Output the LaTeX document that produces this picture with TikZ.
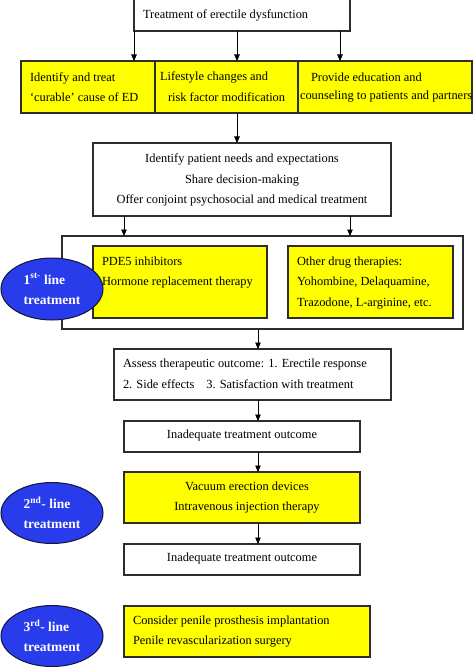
\documentclass[tikz,border=0pt]{standalone}
\usepackage{fontspec}
\setmainfont{Liberation Serif}
\usetikzlibrary{arrows.meta,shapes.geometric}
\definecolor{ylw}{RGB}{255,255,0}
\definecolor{blu}{RGB}{40,60,235}
\definecolor{edgec}{RGB}{45,45,45}
\definecolor{ovaledge}{RGB}{20,20,60}
\begin{document}
\begin{tikzpicture}[x=1pt,y=-1pt,
  box/.style={draw=edgec,line width=1.2pt,inner sep=0pt,outer sep=0pt},
  ybox/.style={box,fill=ylw},
  wbox/.style={box,fill=white},
  txt/.style={inner sep=0pt,outer sep=0pt,align=left,font=\fontsize{12.4}{20.5}\selectfont},
  ctxt/.style={txt,align=center},
  oval/.style={ellipse,draw=ovaledge,line width=1pt,fill=blu,text=white,inner sep=0pt,
    minimum width=102pt,minimum height=62pt,align=left,
    font=\bfseries\fontsize{13.5}{20}\selectfont},
  arr/.style={-{Triangle[length=6.5pt,width=5.5pt]},line width=0.9pt,black}]
\useasboundingbox (0,0) rectangle (474,668);
% boxes
\node[wbox,minimum width=216pt,minimum height=36pt] (top) at (242,13) {};
\node[ybox,minimum width=134pt,minimum height=52pt] (c1) at (88,87) {};
\node[ybox,minimum width=143pt,minimum height=52pt] (c2) at (226.5,87) {};
\node[ybox,minimum width=174pt,minimum height=52pt] (c3) at (385,87) {};
\node[wbox,minimum width=298pt,minimum height=73pt] (needs) at (242,179.5) {};
\node[wbox,minimum width=401pt,minimum height=93pt] (first) at (262.5,282.5) {};
\node[ybox,minimum width=174pt,minimum height=72pt] (pde) at (180,282) {};
\node[ybox,minimum width=165pt,minimum height=72pt] (other) at (370.5,282) {};
\node[wbox,minimum width=277pt,minimum height=51pt] (assess) at (252.5,374.5) {};
\node[wbox,minimum width=236pt,minimum height=31pt] (inad1) at (242,436.5) {};
\node[ybox,minimum width=236pt,minimum height=51pt] (vac) at (242,497.5) {};
\node[wbox,minimum width=236pt,minimum height=31pt] (inad2) at (242,559.5) {};
\node[ybox,minimum width=246pt,minimum height=51pt] (third) at (247,631.5) {};
% texts
\node[txt,anchor=west] (ttop) at (143,15) {Treatment of erectile dysfunction};
\node[txt,anchor=west] (tc1) at (30,87) {Identify and treat\\`curable' cause of ED};
\node[txt,anchor=west] (tc2a) at (160,77) {Lifestyle changes and};
\node[txt,anchor=west] (tc2b) at (168,97) {risk factor modification};
\node[txt,anchor=west] (tc3a) at (311,77) {Provide education and};
\node[txt,anchor=west] (tc3b) at (300,97) {counseling to patients and partners};
\node[ctxt] (tneeds) at (242,180) {Identify patient needs and expectations\\Share decision-making\\Offer conjoint psychosocial and medical treatment};
\node[txt,anchor=west] (tpde) at (102,272.5) {PDE5 inhibitors\\Hormone replacement therapy};
\node[txt,anchor=west] (tother) at (297,283) {Other drug therapies:\\Yohombine, Delaquamine,\\Trazodone, L-arginine, etc.};
\node[txt,anchor=west] (tassess) at (123,374) {Assess therapeutic outcome: 1. Erectile response\\2. Side effects\hspace{12pt}3. Satisfaction with treatment};
\node[ctxt] (tinad1) at (242,436) {Inadequate treatment outcome};
\node[ctxt] (tvac) at (247,497.5) {Vacuum erection devices\\Intravenous injection therapy};
\node[ctxt] (tinad2) at (242,559) {Inadequate treatment outcome};
\node[txt,anchor=west] (tthird) at (133,631.5) {Consider penile prosthesis implantation\\Penile revascularization surgery};
% ovals
\node[oval] (o1) at (52,289) {1\textsuperscript{st-} line\\treatment};
\node[oval,minimum height=61pt] (o2) at (52,513) {2\textsuperscript{nd}- line\\treatment};
\node[oval,minimum height=61pt] (o3) at (52,636) {3\textsuperscript{rd}- line\\treatment};
% arrow columns
\coordinate (xa) at (134,0);
\coordinate (xb) at (237,0);
\coordinate (xc) at (340,0);
\coordinate (xd) at (124,0);
\coordinate (xe) at (350,0);
\coordinate (xf) at (258,0);
\draw[arr] (top.south -| xa) -- (c1.north -| xa);
\draw[arr] (top.south -| xb) -- (c2.north -| xb);
\draw[arr] (top.south -| xc) -- (c3.north -| xc);
\draw[arr] (c2.south -| xb) -- (needs.north -| xb);
\draw[arr] (needs.south -| xd) -- (first.north -| xd);
\draw[arr] (needs.south -| xe) -- (first.north -| xe);
\draw[arr] (first.south -| xf) -- (assess.north -| xf);
\draw[arr] (assess.south -| xf) -- (inad1.north -| xf);
\draw[arr] (inad1.south -| xf) -- (vac.north -| xf);
\draw[arr] (vac.south -| xf) -- (inad2.north -| xf);
\end{tikzpicture}
\end{document}
